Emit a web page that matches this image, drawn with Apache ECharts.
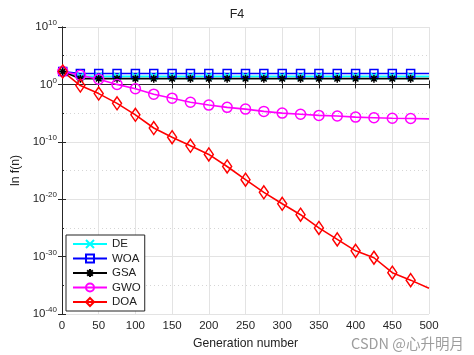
<!DOCTYPE html>
<html>
<head>
<meta charset="utf-8">
<script src="https://cdn.jsdelivr.net/npm/echarts@6/dist/echarts.min.js"></script>
<style>html,body{margin:0;padding:0;background:#fff;}#c{width:474px;height:355px;}</style>
</head>
<body>
<div id="c"></div>
<script>
// Generation numbers where samples/markers are placed
var generations = [1,25,50,75,100,125,150,175,200,225,250,275,300,325,350,375,400,425,450,475,500];
// log10 of f(n)
var deLog10  = [2.25,1.4,1.4,1.4,1.4,1.4,1.4,1.4,1.4,1.4,1.4,1.4,1.4,1.4,1.4,1.4,1.4,1.4,1.4,1.4,1.4];
var woaLog10 = [2.25,1.9,1.9,1.9,1.9,1.9,1.9,1.9,1.9,1.9,1.9,1.9,1.9,1.9,1.9,1.9,1.9,1.9,1.9,1.9,1.9];
var gsaLog10 = [2.25,1.0,1.0,1.0,1.0,1.0,1.0,1.0,1.0,1.0,1.0,1.0,1.0,1.0,1.0,1.0,1.0,1.0,1.0,1.0,1.0];
var gwoLog10 = [2.25,1.6,0.9,0.0,-0.75,-1.7,-2.4,-3.1,-3.6,-4.0,-4.3,-4.7,-5.0,-5.2,-5.4,-5.5,-5.7,-5.8,-5.9,-5.95,-6.0];
var doaLog10 = [2.25,-0.2,-1.6,-3.3,-5.3,-7.6,-9.2,-10.7,-12.2,-14.3,-16.6,-18.8,-20.8,-22.7,-25.0,-27.0,-29.0,-30.2,-32.8,-34.1,-35.5];
var seriesNames = ['DE','WOA','GSA','GWO','DOA'];
var yTicks = [-40,-30,-20,-10,0,10];
var xTicks = [0,50,100,150,200,250,300,350,400,450,500];

var FONT = 'Liberation Sans, Arial, sans-serif';
function pairs(ys){
  return generations.map(function(g,i){
    var item = {value:[g, ys[i]]};
    if (i === generations.length-1) item.symbol = 'none';
    return item;
  });
}
var crossPath = 'path://M0,0L10,10M10,0L0,10';
var starPath = 'path://M5,0L5,10M0,5L10,5M1.5,1.5L8.5,8.5M8.5,1.5L1.5,8.5';
function mk(name, ys, color, symbol, size, fill){
  return {
    name: name, type:'line', data: pairs(ys), xAxisIndex:0, yAxisIndex:0,
    symbol: symbol, symbolSize: size, showSymbol:true,
    lineStyle:{color:color, width:1.6},
    itemStyle:{color: fill || 'rgba(0,0,0,0)', borderColor:color, borderWidth:1.5},
    color: color,
    animation:false
  };
}
var chart = echarts.init(document.getElementById('c'));
chart.setOption({
  animation:false,
  backgroundColor:'#fff',
  title:{text:'F4', left:'center', top:3, textStyle:{fontFamily:FONT, fontSize:12.5, fontWeight:'normal', color:'#222'}},
  grid:{left:62, right:45, top:27, bottom:39},
  legend:{
    data: seriesNames, orient:'vertical', left:66, top:235,
    itemWidth:34, itemHeight:10, itemGap:2.5,
    padding:[3,4,3,6], borderColor:'#222', borderWidth:1, backgroundColor:'#fff',
    textStyle:{fontFamily:FONT, fontSize:11.5, color:'#222'}
  },
  xAxis:[{
    type:'value', min:0, max:500, interval:50,
    name:'Generation number', nameLocation:'middle', nameGap:24,
    nameTextStyle:{fontFamily:FONT, fontSize:12.2, color:'#222'},
    axisLine:{lineStyle:{color:'#262626', width:1}},
    axisTick:{inside:true, length:4, lineStyle:{color:'#262626'}},
    axisLabel:{fontFamily:FONT, fontSize:11.5, color:'#262626', margin:6},
    splitLine:{show:true, lineStyle:{color:'#e3e3e3', width:1}}
  },{
    type:'value', min:0, max:500, interval:50, position:'top',
    axisLine:{lineStyle:{color:'#262626', width:1}},
    axisTick:{inside:true, length:4, lineStyle:{color:'#262626'}},
    axisLabel:{show:false}, splitLine:{show:false}
  }],
  yAxis:[{
    type:'value', min:-40, max:10, interval:10,
    name:'ln f(n)', nameLocation:'middle', nameGap:38,
    nameTextStyle:{fontFamily:FONT, fontSize:12.2, color:'#222'},
    axisLine:{lineStyle:{color:'#262626', width:1}},
    axisTick:{inside:true, length:4, lineStyle:{color:'#262626'}},
    minorTick:{show:true, splitNumber:2, length:2, lineStyle:{color:'#262626'}},
    minorSplitLine:{show:true, lineStyle:{color:'#d6d6d6', type:[1,3], width:1}},
    axisLabel:{
      fontFamily:FONT, fontSize:11.5, color:'#262626', margin:5,
      formatter:function(v){ return '10{s|' + v + '}'; },
      rich:{s:{fontSize:8, verticalAlign:'top', padding:[0,0,8,0], fontFamily:FONT, color:'#262626'}}
    },
    splitLine:{show:true, lineStyle:{color:'#e3e3e3', width:1}}
  },{
    type:'value', min:-40, max:10, interval:10, position:'right',
    axisLine:{lineStyle:{color:'#262626', width:1}},
    axisTick:{inside:true, length:4, lineStyle:{color:'#262626'}},
    axisLabel:{show:false}, splitLine:{show:false}
  }],
  graphic:[{
    type:'text', right:10, bottom:4,
    style:{text:'CSDN @心升明月', fill:'rgba(140,140,140,0.85)', font:'14.5px "Noto Sans CJK SC", sans-serif'}
  }],
  series:[
    mk('DE', deLog10, '#00ffff', crossPath, 7),
    mk('WOA', woaLog10, '#0000ff', 'rect', 8),
    mk('GSA', gsaLog10, '#000000', starPath, 8),
    mk('GWO', gwoLog10, '#ff00ff', 'circle', 10),
    mk('DOA', doaLog10, '#ff0000', 'diamond', [9,13])
  ]
});
</script>
</body>
</html>
